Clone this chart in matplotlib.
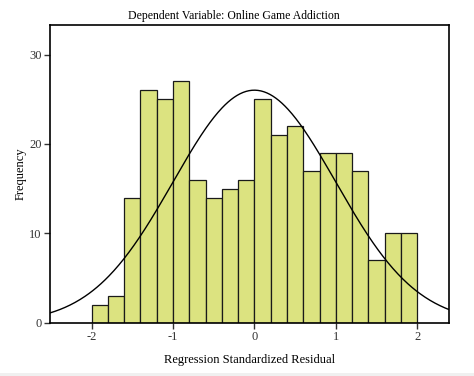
import numpy as np
import matplotlib
matplotlib.use("Agg")
import matplotlib.pyplot as plt
from matplotlib.patches import Rectangle

plt.rcParams['font.family'] = ['Liberation Serif', 'DejaVu Serif']
plt.rcParams['axes.unicode_minus'] = False

# histogram bins (standardized residual) and counts
bin_edges = [-2.0, -1.8, -1.6, -1.4, -1.2, -1.0, -0.8, -0.6, -0.4, -0.2, 0.0,
             0.2, 0.4, 0.6, 0.8, 1.0, 1.2, 1.4, 1.6, 1.8, 2.0]
counts = [2, 3, 14, 26, 25, 27, 16, 14, 15, 16,
          25, 21, 22, 17, 19, 19, 17, 7, 10, 10]

# normal curve parameters (SPSS overlay)
res_mean = 0.0
res_std = 0.997
n_total = sum(counts)

xticks = [-2, -1, 0, 1, 2]
yticks = [0, 10, 20, 30]

fig = plt.figure(figsize=(4.74, 3.76), dpi=100)
fig.patch.set_facecolor('white')
fig.patches.append(Rectangle((0, 0), 1, 3 / 376, transform=fig.transFigure,
                             facecolor='#f0f0f0', edgecolor='none', zorder=-1))

ax = fig.add_axes([50 / 474, 53.3 / 376, 399 / 474, 297.7 / 376])

lefts = bin_edges[:-1]
widths = np.diff(bin_edges)
ax.bar(lefts, counts, width=widths, align='edge', color='#dce380',
       edgecolor='#1a1a1a', linewidth=0.9, zorder=2)

xlo, xhi = -2.51, 2.39
xs = np.linspace(xlo, xhi, 400)
bw = widths[0]
ys = n_total * bw / (res_std * np.sqrt(2 * np.pi)) * np.exp(-0.5 * ((xs - res_mean) / res_std) ** 2)
ax.plot(xs, ys, color='black', linewidth=1.0, zorder=3)

ax.set_xlim(xlo, xhi)
ax.set_ylim(0, 33.3)
ax.set_xticks(xticks)
ax.set_xticklabels([str(t) for t in xticks])
ax.set_yticks(yticks)

for s in ax.spines.values():
    s.set_linewidth(1.2)
    s.set_color('black')
ax.tick_params(direction='out', length=4, width=1, labelsize=9, colors='#333333',
               labelcolor='#333333', pad=2)

ax.set_xlabel('Regression Standardized Residual', fontsize=9, labelpad=8)
ax.set_ylabel('Frequency', fontsize=9, labelpad=2)
fig.text(0.494, 0.958, 'Dependent Variable: Online Game Addiction',
         ha='center', va='center', fontsize=8.5)

fig.savefig('out.png', dpi=100)
plt.close(fig)
